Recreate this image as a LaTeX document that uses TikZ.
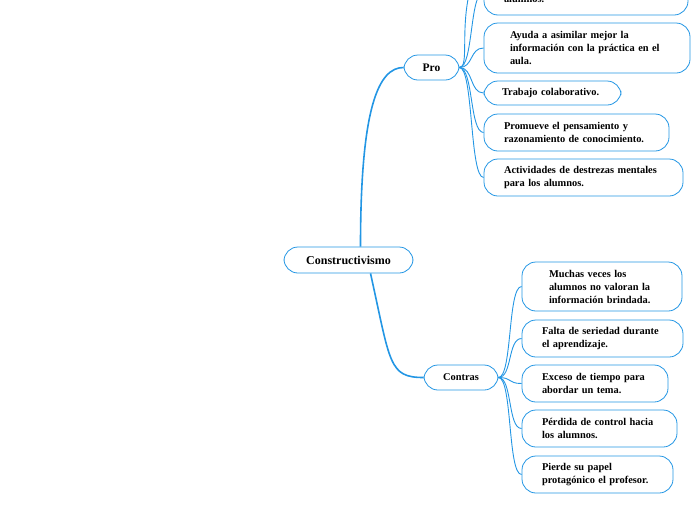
\documentclass[tikz,border=0pt]{standalone}
\usepackage{fontspec}
\setmainfont{Liberation Serif}
\newcommand{\myln}[1]{\mbox{#1}}
\begin{document}
\begin{tikzpicture}[x=1pt,y=-1pt,
  bx/.style={draw=mmblue,line width=0.8pt,rounded corners=14pt,font=\bfseries\fontsize{10.4}{13}\selectfont,inner sep=0pt,align=left},
  cn/.style={draw=mmblue,line width=0.9pt},
  ]
\definecolor{mmblue}{RGB}{35,150,228}
\useasboundingbox (0,0) rectangle (696,520);
\clip (0,0) rectangle (696,520);
\node[bx,minimum width=129pt,minimum height=26pt,font=\bfseries\fontsize{12}{14}\selectfont,align=center] (c) at (348.5,260) {Constructivismo};
\node[bx,minimum width=55pt,minimum height=25pt,font=\bfseries\fontsize{11.5}{14}\selectfont,align=center] (pro) at (431.5,67.5) {Pro};
\node[bx,minimum width=74pt,minimum height=25pt,align=center] (con) at (461,377.5) {Contras};
\node[bx,minimum width=204pt,minimum height=46pt,text width=164pt] (p0) at (586,-8) {\mbox{}\\[9pt]\myln{alumnos.}};
\node[bx,minimum width=206pt,minimum height=50pt,text width=154pt] (p1) at (587,48) {\myln{Ayuda a asimilar mejor la}\\\myln{información con la práctica en el}\\\myln{aula.}};
\node[bx,minimum width=137pt,minimum height=24pt,text width=101pt] (p2) at (552.5,93) {\myln{Trabajo colaborativo.}};
\node[bx,minimum width=185pt,minimum height=37pt,text width=145pt] (p3) at (576.5,132.5) {\myln{Promueve el pensamiento y}\\\myln{razonamiento de conocimiento.}};
\node[bx,minimum width=199pt,minimum height=37pt,text width=159pt] (p4) at (583.5,177.5) {\myln{Actividades de destrezas mentales}\\\myln{para los alumnos.}};
\node[bx,minimum width=160pt,minimum height=49pt,text width=106pt] (k1) at (602,286.5) {\myln{Muchas veces los}\\\myln{alumnos no valoran la}\\\myln{información brindada.}};
\node[bx,minimum width=161pt,minimum height=37pt,text width=121pt] (k2) at (602.5,338.5) {\myln{Falta de seriedad durante}\\\myln{el aprendizaje.}};
\node[bx,minimum width=146pt,minimum height=37pt,text width=106pt] (k3) at (595,383.5) {\myln{Exceso de tiempo para}\\\myln{abordar un tema.}};
\node[bx,minimum width=155pt,minimum height=37pt,text width=115pt] (k4) at (599.5,428.5) {\myln{Pérdida de control hacia}\\\myln{los alumnos.}};
\node[bx,minimum width=151pt,minimum height=37pt,text width=111pt] (k5) at (597.5,474.5) {\myln{Pierde su papel}\\\myln{protagónico el profesor.}};
\draw[cn,line width=1.6pt] ([xshift=12pt]c.north) .. controls +(0,-140) and +(-25,0) .. (pro.west);
\draw[cn,line width=1.6pt] ([xshift=22pt]c.south) .. controls +(20,90) and +(-35,0) .. (con.west);
\foreach \k in {p0,p1,p2,p3,p4}
  \draw[cn] (pro.east) .. controls +(14,0) and +(-14,0) .. (\k.west);
\draw[cn] (pro.east) .. controls +(10,0) and +(-10,40) .. (470,-10);
\foreach \k in {k1,k2,k3,k4,k5}
  \draw[cn] (con.east) .. controls +(14,0) and +(-14,0) .. (\k.west);
\end{tikzpicture}
\end{document}
